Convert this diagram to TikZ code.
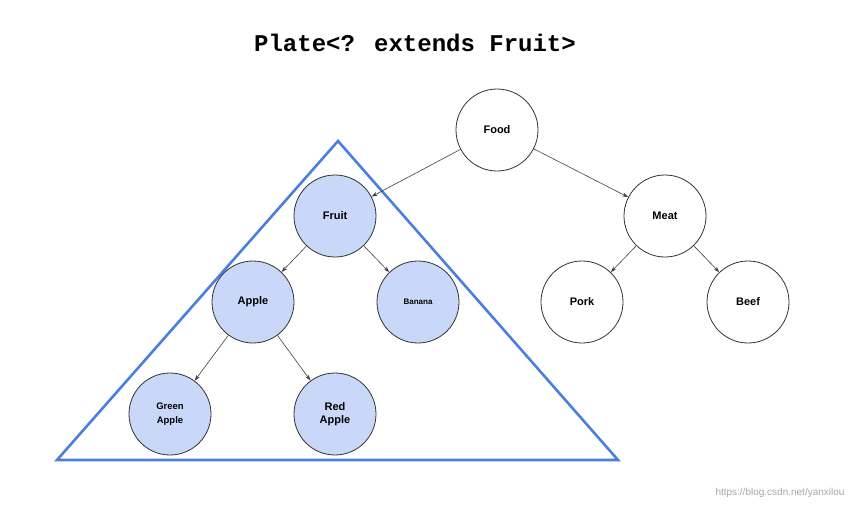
\documentclass[tikz,border=0pt]{standalone}
\usepackage{fontspec}
\setmainfont{Liberation Sans}
\newfontfamily\titlefont{Liberation Mono}
\usetikzlibrary{arrows.meta}
\definecolor{nodeblue}{HTML}{C9D8F8}
\definecolor{triblue}{HTML}{4A7FE0}
\begin{document}
\begin{tikzpicture}[x=1pt,y=-1pt,
  tn/.style={circle,draw=black!80,line width=0.8pt,minimum size=82pt,inner sep=0pt,align=center,font=\bfseries\fontsize{11}{13}\selectfont},
  bn/.style={tn,fill=nodeblue},
  ar/.style={-{Stealth[length=6pt,width=4pt]},draw=black!75,line width=0.6pt}]
\useasboundingbox (0,0) rectangle (853,511);
\node[font=\titlefont\bfseries\fontsize{24}{28}\selectfont] (title) at (415,43) {Plate<? extends Fruit>};
\draw[triblue,line width=2.6pt,line join=miter] (338,141) -- (618,460) -- (57,460) -- cycle;
\node[tn] (food) at (497,130) {Food};
\node[bn] (fruit) at (335,216) {Fruit};
\node[tn] (meat) at (665,216) {Meat};
\node[bn] (apple) at (253,302) {Apple};
\node[bn,font=\bfseries\fontsize{8}{10}\selectfont] (banana) at (418,302) {Banana};
\node[tn] (pork) at (582,302) {Pork};
\node[tn] (beef) at (748,302) {Beef};
\node[bn,font=\bfseries\fontsize{9.5}{14}\selectfont] (green) at (170,414) {Green\\Apple};
\node[bn] (red) at (335,414) {Red\\Apple};
\draw[ar] (food) -- (fruit);
\draw[ar] (food) -- (meat);
\draw[ar] (fruit) -- (apple);
\draw[ar] (fruit) -- (banana);
\draw[ar] (meat) -- (pork);
\draw[ar] (meat) -- (beef);
\draw[ar] (apple) -- (green);
\draw[ar] (apple) -- (red);
\node[text=black!35,font=\fontsize{10}{12}\selectfont,anchor=east] (wm) at (848,493) {https://blog.csdn.net/yanxilou};
\end{tikzpicture}
\end{document}
